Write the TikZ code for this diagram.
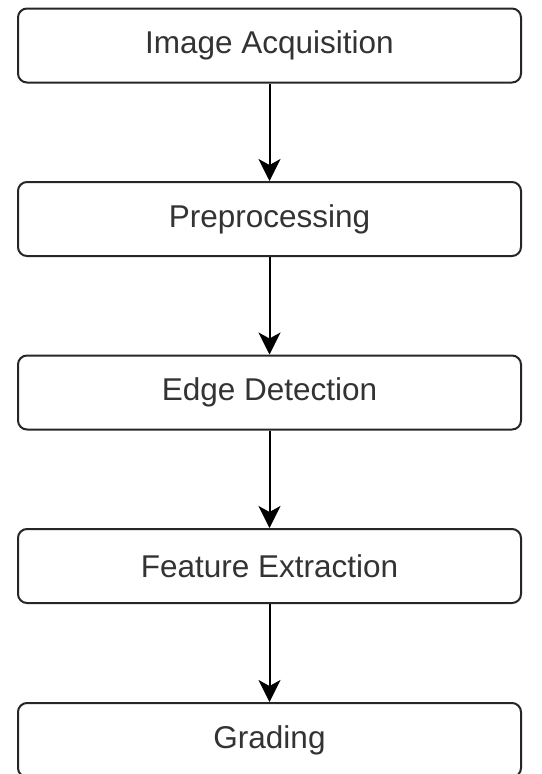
\documentclass[tikz,border=0pt]{standalone}
\usepackage{fontspec}
\setmainfont{Liberation Sans}
\usetikzlibrary{arrows.meta}
\begin{document}
\begin{tikzpicture}[x=1pt,y=-1pt,
  stepbox/.style={draw=black!85, line width=2pt, rounded corners=9pt,
    minimum width=503pt, minimum height=74pt, inner sep=0pt,
    text=black!80, font=\fontsize{31.5}{36}\selectfont, anchor=north},
  flow/.style={draw=black, line width=2pt,
    -{Stealth[length=22pt,width=22pt,inset=6pt]}}]
\useasboundingbox (0,0) rectangle (541,774);
\fill[white] (0,0) rectangle (541,774);
\clip (0,0) rectangle (541,774);
\node[stepbox] (a) at (269.5,7.5) {\raisebox{-1.5pt}{Image Acquisition}};
\node[stepbox] (b) at (269.5,181) {\raisebox{-1.5pt}{Preprocessing}};
\node[stepbox] (c) at (269.5,354.5) {\raisebox{-1.5pt}{Edge Detection}};
\node[stepbox] (d) at (269.5,528) {\raisebox{-1.5pt}{Feature Extraction}};
\node[stepbox] (e) at (269.5,702) {\raisebox{-1.5pt}{Grading}};
\draw[flow] (a.south) -- (b.north);
\draw[flow] (b.south) -- (c.north);
\draw[flow] (c.south) -- (d.north);
\draw[flow] (d.south) -- (e.north);
\end{tikzpicture}
\end{document}
